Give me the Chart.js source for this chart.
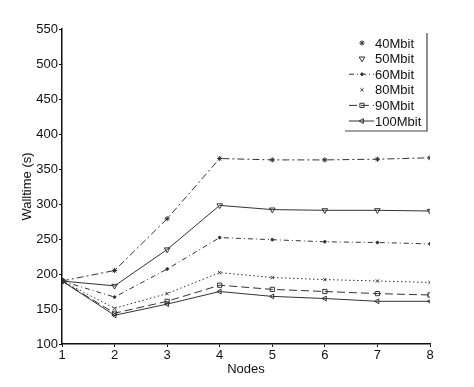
<!DOCTYPE html>
<html>
<head>
<meta charset="utf-8">
<script src="https://cdn.jsdelivr.net/npm/chart.js@4/dist/chart.umd.min.js"></script>
<style>
  html, body { margin: 0; padding: 0; background: #fff; }
  #wrap { width: 474px; height: 387px; }
</style>
</head>
<body>
<div id="wrap"><canvas id="chart" width="474" height="387"></canvas></div>
<script>
// data
const nodes = [1, 2, 3, 4, 5, 6, 7, 8];
const seriesNames = ['40Mbit', '50Mbit', '60Mbit', '80Mbit', '90Mbit', '100Mbit'];
const mbit40 = [190, 205, 279, 365, 363, 363, 364, 366];
const mbit50 = [190, 183, 235, 298, 292, 291, 291, 290];
const mbit60 = [190, 167, 207, 252, 249, 246, 245, 243];
const mbit80 = [190, 151, 172, 202, 195, 192, 190, 188];
const mbit90 = [190, 144, 161, 184, 178, 175, 172, 170];
const mbit100 = [190, 141, 157, 175, 168, 165, 161, 161];
const yTicks = [100, 150, 200, 250, 300, 350, 400, 450, 500, 550];

const FONT = "'Liberation Sans', Arial, sans-serif";
const ink = '#333';

// style per series
const styles = [
  { dash: [7, 3, 2, 3], point: 'star', radius: 2.6, rot: 0, fill: false, legendLine: false },
  { dash: [], point: 'triangle', radius: 3.2, rot: 180, fill: false, legendLine: false },
  { dash: [5, 3, 1, 3], point: 'circle', radius: 1.3, rot: 0, fill: true, legendLine: true },
  { dash: [1.5, 2.5], point: 'crossRot', radius: 2.3, rot: 0, fill: false, legendLine: false },
  { dash: [8, 4], point: 'rect', radius: 3, rot: 0, fill: false, legendLine: true },
  { dash: [], point: 'triangle', radius: 2.8, rot: -90, fill: false, legendLine: true }
];
const allValues = [mbit40, mbit50, mbit60, mbit80, mbit90, mbit100];

const datasets = allValues.map((vals, i) => {
  const s = styles[i];
  return {
    label: seriesNames[i],
    data: vals.map((v, k) => ({ x: nodes[k], y: v })),
    borderColor: ink,
    borderWidth: 1,
    borderDash: s.dash,
    pointStyle: s.point,
    pointRadius: s.radius,
    pointRotation: s.rot,
    pointBorderColor: ink,
    pointBorderWidth: 1,
    pointBackgroundColor: s.fill ? ink : 'rgba(0,0,0,0)',
    tension: 0
  };
});

// legend drawn inside the plot, top right
const insideLegend = {
  id: 'insideLegend',
  afterDraw(chart) {
    const c = chart.ctx;
    const left = 345, top = 33, right = 427, bottom = 131;
    c.save();
    c.strokeStyle = '#444';
    c.lineWidth = 1.2;
    c.beginPath();
    c.moveTo(right, top);
    c.lineTo(right, bottom);
    c.lineTo(left, bottom);
    c.stroke();
    c.font = '13px ' + FONT;
    c.textBaseline = 'middle';
    chart.data.datasets.forEach((ds, i) => {
      const y = 43 + i * 15.6;
      const s = styles[i];
      if (s.legendLine) {
        c.strokeStyle = ink;
        c.lineWidth = 1;
        c.setLineDash(s.dash);
        c.beginPath();
        c.moveTo(349, y);
        c.lineTo(374, y);
        c.stroke();
        c.setLineDash([]);
      }
      c.strokeStyle = ink;
      c.fillStyle = s.fill ? ink : 'rgba(0,0,0,0)';
      c.lineWidth = 1;
      Chart.helpers.drawPoint(c, { pointStyle: s.point, radius: s.radius, rotation: s.rot, borderWidth: 1 }, 362, y);
      c.fillStyle = '#111';
      c.fillText(ds.label, 375, y + 1);
    });
    c.restore();
  }
};

const ctx = document.getElementById('chart').getContext('2d');
new Chart(ctx, {
  type: 'line',
  data: { datasets },
  options: {
    animation: false,
    responsive: false,
    devicePixelRatio: 1,
    layout: { padding: { top: 29, right: 44, bottom: 0, left: 0 } },
    plugins: { legend: { display: false }, tooltip: { enabled: false } },
    scales: {
      x: {
        type: 'linear',
        min: 1,
        max: 8,
        afterFit: (s) => { s.height = 43; },
        ticks: { stepSize: 1, color: '#111', font: { family: FONT, size: 13 }, padding: 1, maxRotation: 0 },
        grid: { drawOnChartArea: false, tickLength: 3, color: '#111' },
        border: { display: true, color: '#111', width: 1.5 },
        title: { display: true, text: 'Nodes', color: '#111', font: { family: FONT, size: 13 }, padding: { top: 0, bottom: 10 } }
      },
      y: {
        type: 'linear',
        min: 100,
        max: 550,
        afterFit: (s) => { s.width = 62; },
        afterBuildTicks: (s) => { s.ticks = yTicks.map(v => ({ value: v })); },
        ticks: { color: '#111', font: { family: FONT, size: 13 }, padding: 1 },
        grid: { drawOnChartArea: false, tickLength: 3, color: '#111' },
        border: { display: true, color: '#111', width: 1.5 },
        title: { display: true, text: 'Walltime (s)', color: '#111', font: { family: FONT, size: 13 }, padding: { top: 20, bottom: 0 } }
      }
    }
  },
  plugins: [insideLegend]
});
</script>
</body>
</html>
